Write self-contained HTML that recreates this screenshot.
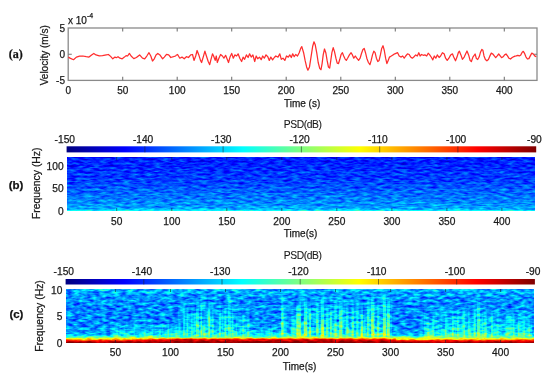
<!DOCTYPE html>
<html lang="en"><head><meta charset="utf-8"><title>Velocity and PSD spectrograms</title>
<style>html,body{margin:0;padding:0;background:#fff;}svg{display:block;}text{font-family:"Liberation Sans",sans-serif;font-size:10px;fill:#1a1a1a;stroke:#1a1a1a;stroke-width:.25px;}.lab{font-family:"Liberation Serif",serif;font-weight:bold;font-size:12px;fill:#111;}.psd{font-size:10.3px;letter-spacing:-.42px;stroke-width:.1px;}.lb2{font-weight:bold;font-size:11.5px;fill:#111;}.t2{font-size:10.2px;}.yl{font-size:10.4px;}</style></head><body>
<svg width="550" height="381" viewBox="0 0 550 381">
<defs>
<linearGradient id="jet" x1="0" x2="1" y1="0" y2="0"><stop offset="0" stop-color="rgb(0, 0, 128)"/><stop offset="0.125" stop-color="rgb(0, 0, 255)"/><stop offset="0.375" stop-color="rgb(0, 255, 255)"/><stop offset="0.625" stop-color="rgb(255, 255, 0)"/><stop offset="0.875" stop-color="rgb(255, 0, 0)"/><stop offset="1" stop-color="rgb(128, 0, 0)"/></linearGradient>
<filter id="fb" x="0" y="0" width="1" height="1" color-interpolation-filters="sRGB"><feTurbulence type="fractalNoise" baseFrequency="0.13 0.46" numOctaves="2" seed="7" result="n"/><feColorMatrix in="n" type="matrix" values="1 0 0 0 0 1 0 0 0 0 1 0 0 0 0 0 0 0 0 1" result="g"/><feComposite in="SourceGraphic" in2="g" operator="arithmetic" k1="-0.0" k2="1.0" k3="0.27" k4="-0.135" result="v"/><feComponentTransfer in="v"><feFuncR type="table" tableValues="0 0 0 0 0.5 1 1 1 0.5"/><feFuncG type="table" tableValues="0 0 0.5 1 1 1 0.5 0 0"/><feFuncB type="table" tableValues="0.5 1 1 1 0.5 0 0 0 0"/></feComponentTransfer></filter>
<filter id="fc" x="0" y="0" width="1" height="1" color-interpolation-filters="sRGB"><feTurbulence type="fractalNoise" baseFrequency="0.15 0.36" numOctaves="2" seed="11" result="n"/><feColorMatrix in="n" type="matrix" values="1 0 0 0 0 1 0 0 0 0 1 0 0 0 0 0 0 0 0 1" result="g"/><feComposite in="SourceGraphic" in2="g" operator="arithmetic" k1="-0.24" k2="1.12" k3="0.46" k4="-0.23" result="v"/><feComponentTransfer in="v"><feFuncR type="table" tableValues="0 0 0 0 0.5 1 1 1 0.5"/><feFuncG type="table" tableValues="0 0 0.5 1 1 1 0.5 0 0"/><feFuncB type="table" tableValues="0.5 1 1 1 0.5 0 0 0 0"/></feComponentTransfer></filter>
<linearGradient id="gb" x1="0" x2="0" y1="0" y2="1"><stop offset="0.000" stop-color="rgb(38,38,38)"/><stop offset="0.444" stop-color="rgb(48,48,48)"/><stop offset="0.796" stop-color="rgb(64,64,64)"/><stop offset="0.954" stop-color="rgb(73,73,73)"/><stop offset="0.978" stop-color="rgb(84,84,84)"/><stop offset="1.000" stop-color="rgb(102,102,102)"/></linearGradient>
<linearGradient id="gc" x1="0" x2="0" y1="0" y2="1"><stop offset="0.004" stop-color="rgb(79,79,79)"/><stop offset="0.130" stop-color="rgb(71,71,71)"/><stop offset="0.241" stop-color="rgb(67,67,67)"/><stop offset="0.611" stop-color="rgb(65,65,65)"/><stop offset="0.778" stop-color="rgb(70,70,70)"/><stop offset="0.852" stop-color="rgb(82,82,82)"/><stop offset="0.880" stop-color="rgb(102,102,102)"/><stop offset="1.000" stop-color="rgb(115,115,115)"/></linearGradient>
<linearGradient id="bd0" x1="0" x2="0" y1="0" y2="1"><stop offset="0.260" stop-color="rgb(102,102,102)" stop-opacity="0.0"/><stop offset="0.400" stop-color="rgb(122,122,122)" stop-opacity="0.6"/><stop offset="0.510" stop-color="rgb(148,148,148)" stop-opacity="1.0"/><stop offset="0.620" stop-color="rgb(168,168,168)" stop-opacity="1.0"/><stop offset="0.710" stop-color="rgb(199,199,199)" stop-opacity="1.0"/><stop offset="0.780" stop-color="rgb(222,222,222)" stop-opacity="1.0"/><stop offset="0.880" stop-color="rgb(237,237,237)" stop-opacity="1.0"/><stop offset="0.990" stop-color="rgb(255,255,255)" stop-opacity="1.0"/></linearGradient>
<linearGradient id="bd1" x1="0" x2="0" y1="0" y2="1"><stop offset="0.245" stop-color="rgb(102,102,102)" stop-opacity="0.0"/><stop offset="0.390" stop-color="rgb(120,120,120)" stop-opacity="0.575"/><stop offset="0.508" stop-color="rgb(150,150,150)" stop-opacity="1.0"/><stop offset="0.610" stop-color="rgb(176,176,176)" stop-opacity="1.0"/><stop offset="0.695" stop-color="rgb(205,205,205)" stop-opacity="1.0"/><stop offset="0.780" stop-color="rgb(225,225,225)" stop-opacity="1.0"/><stop offset="0.880" stop-color="rgb(240,240,240)" stop-opacity="1.0"/><stop offset="0.990" stop-color="rgb(255,255,255)" stop-opacity="1.0"/></linearGradient>
<linearGradient id="bd2" x1="0" x2="0" y1="0" y2="1"><stop offset="0.230" stop-color="rgb(102,102,102)" stop-opacity="0.0"/><stop offset="0.380" stop-color="rgb(119,119,119)" stop-opacity="0.55"/><stop offset="0.505" stop-color="rgb(153,153,153)" stop-opacity="1.0"/><stop offset="0.600" stop-color="rgb(184,184,184)" stop-opacity="1.0"/><stop offset="0.680" stop-color="rgb(210,210,210)" stop-opacity="1.0"/><stop offset="0.780" stop-color="rgb(228,228,228)" stop-opacity="1.0"/><stop offset="0.880" stop-color="rgb(244,244,244)" stop-opacity="1.0"/><stop offset="0.990" stop-color="rgb(255,255,255)" stop-opacity="1.0"/></linearGradient>
<linearGradient id="bd3" x1="0" x2="0" y1="0" y2="1"><stop offset="0.215" stop-color="rgb(102,102,102)" stop-opacity="0.0"/><stop offset="0.370" stop-color="rgb(117,117,117)" stop-opacity="0.525"/><stop offset="0.502" stop-color="rgb(156,156,156)" stop-opacity="1.0"/><stop offset="0.590" stop-color="rgb(191,191,191)" stop-opacity="1.0"/><stop offset="0.665" stop-color="rgb(216,216,216)" stop-opacity="1.0"/><stop offset="0.780" stop-color="rgb(231,231,231)" stop-opacity="1.0"/><stop offset="0.880" stop-color="rgb(247,247,247)" stop-opacity="1.0"/><stop offset="0.990" stop-color="rgb(255,255,255)" stop-opacity="1.0"/></linearGradient>
<linearGradient id="bd4" x1="0" x2="0" y1="0" y2="1"><stop offset="0.200" stop-color="rgb(102,102,102)" stop-opacity="0.0"/><stop offset="0.360" stop-color="rgb(115,115,115)" stop-opacity="0.5"/><stop offset="0.500" stop-color="rgb(158,158,158)" stop-opacity="1.0"/><stop offset="0.580" stop-color="rgb(199,199,199)" stop-opacity="1.0"/><stop offset="0.650" stop-color="rgb(222,222,222)" stop-opacity="1.0"/><stop offset="0.780" stop-color="rgb(235,235,235)" stop-opacity="1.0"/><stop offset="0.880" stop-color="rgb(250,250,250)" stop-opacity="1.0"/><stop offset="0.990" stop-color="rgb(255,255,255)" stop-opacity="1.0"/></linearGradient>
<linearGradient id="st" x1="0" x2="0" y1="0" y2="1"><stop offset="0" stop-color="#fff" stop-opacity="0"/><stop offset="0.3" stop-color="#fff" stop-opacity="0.14"/><stop offset="0.6" stop-color="#fff" stop-opacity="0.26"/><stop offset="1" stop-color="#fff" stop-opacity="0.36"/></linearGradient>
<linearGradient id="zn" x1="0" x2="0" y1="0" y2="1"><stop offset="0" stop-color="#fff" stop-opacity="0"/><stop offset="1" stop-color="#fff" stop-opacity="0.2"/></linearGradient>
</defs>
<rect width="550" height="381" fill="#fff"/>
<rect x="68.2" y="28" width="468.8" height="52.400000000000006" fill="#fff" stroke="#8a8a8a" stroke-width="1.3"/>
<text x="68.2" y="93.6" text-anchor="middle">0</text>
<path d="M122.7 80.4v-3.6M122.7 28v3.6" stroke="#777" stroke-width="1.1" fill="none"/>
<text x="122.7" y="93.6" text-anchor="middle">50</text>
<path d="M177.2 80.4v-3.6M177.2 28v3.6" stroke="#777" stroke-width="1.1" fill="none"/>
<text x="177.2" y="93.6" text-anchor="middle">100</text>
<path d="M231.7 80.4v-3.6M231.7 28v3.6" stroke="#777" stroke-width="1.1" fill="none"/>
<text x="231.7" y="93.6" text-anchor="middle">150</text>
<path d="M286.2 80.4v-3.6M286.2 28v3.6" stroke="#777" stroke-width="1.1" fill="none"/>
<text x="286.2" y="93.6" text-anchor="middle">200</text>
<path d="M340.8 80.4v-3.6M340.8 28v3.6" stroke="#777" stroke-width="1.1" fill="none"/>
<text x="340.8" y="93.6" text-anchor="middle">250</text>
<path d="M395.3 80.4v-3.6M395.3 28v3.6" stroke="#777" stroke-width="1.1" fill="none"/>
<text x="395.3" y="93.6" text-anchor="middle">300</text>
<path d="M449.8 80.4v-3.6M449.8 28v3.6" stroke="#777" stroke-width="1.1" fill="none"/>
<text x="449.8" y="93.6" text-anchor="middle">350</text>
<path d="M504.3 80.4v-3.6M504.3 28v3.6" stroke="#777" stroke-width="1.1" fill="none"/>
<text x="504.3" y="93.6" text-anchor="middle">400</text>
<text x="65" y="31.6" text-anchor="end">5</text>
<text x="65" y="57.8" text-anchor="end">0</text>
<text x="65" y="84.0" text-anchor="end">-5</text>
<path d="M68.2 54.2h3.6M537 54.2h-3.6" stroke="#777" stroke-width="1.1" fill="none"/>
<text x="68" y="23.6">x 10<tspan dy="-6" font-size="7px">-4</tspan></text>
<text transform="translate(48.2 55.3) rotate(-90)" text-anchor="middle">Velocity (m/s)</text>
<text x="302.1" y="106.5" text-anchor="middle">Time (s)</text>
<text class="lab" x="8.7" y="58.3">(a)</text>
<polyline fill="none" stroke="#ff2d2d" stroke-width="1.25" stroke-linejoin="round" points="68.3,57.1 70.5,58.4 73.5,59.7 76.4,57.1 79.6,56.2 82.9,56.0 86.2,56.7 89.0,57.1 91.6,54.9 93.8,53.4 96.0,54.9 99.3,55.8 102.5,55.6 106.3,54.9 108.4,54.5 110.6,56.4 112.8,58.8 115.0,57.1 116.3,57.7 118.0,56.7 120.0,58.2 122.2,58.8 124.4,57.1 126.1,55.6 127.6,56.0 129.4,53.4 131.1,56.0 133.8,58.6 136.4,57.5 139.6,54.9 142.5,58.2 144.7,58.8 146.8,56.0 149.0,52.7 150.8,56.0 152.5,61.0 154.3,58.8 156.0,54.9 157.8,53.4 159.9,54.9 162.6,58.8 164.3,57.1 166.5,54.3 168.7,54.9 170.8,57.5 173.5,56.7 175.6,56.0 176.1,55.3 177.6,54.5 179.8,58.2 182.0,57.1 184.2,58.8 186.4,56.7 188.5,57.5 190.7,54.9 192.5,54.5 194.0,60.4 195.7,56.0 197.1,50.5 198.8,54.9 200.5,60.4 201.6,62.5 203.2,57.1 204.9,51.2 206.4,56.0 208.2,61.5 209.7,64.7 211.0,59.3 212.5,53.8 213.6,56.0 215.2,60.4 216.3,56.0 217.3,62.5 218.9,58.2 220.6,54.5 222.4,56.0 223.9,58.2 225.6,55.3 227.2,59.3 228.5,62.5 230.0,57.1 231.7,53.4 233.3,58.2 234.8,54.9 236.6,56.0 238.1,53.8 239.8,58.2 241.6,61.5 243.1,57.1 244.6,59.3 246.4,54.9 248.1,57.5 249.6,53.8 251.2,57.1 252.9,54.9 254.7,61.5 256.2,56.0 257.7,58.8 259.5,57.1 261.2,59.7 262.7,56.0 264.3,58.2 266.0,54.9 267.8,56.7 269.3,60.4 270.8,57.1 272.6,59.9 274.3,57.5 275.8,56.0 278.0,57.1 279.8,53.8 281.3,59.3 283.0,58.2 284.8,60.4 286.5,56.0 288.3,57.1 289.8,54.9 291.3,57.5 292.7,53.8 294.2,56.7 295.7,54.5 297.5,56.0 299.2,52.7 300.7,48.4 301.8,46.6 303.6,52.7 305.1,60.4 306.6,66.9 307.9,70.2 309.5,66.9 311.0,57.1 312.7,46.2 314.0,41.8 315.3,45.1 316.7,52.7 318.2,62.5 319.7,68.4 321.0,69.7 322.1,63.6 323.2,54.9 324.5,49.0 325.8,52.7 327.1,60.4 328.4,66.9 329.7,68.0 330.8,60.4 331.9,52.7 333.2,47.7 334.5,51.6 335.9,58.2 337.2,63.2 338.5,63.6 339.8,59.3 341.1,54.5 342.4,52.7 343.7,56.0 345.0,58.8 346.3,60.4 347.6,58.2 349.4,54.9 351.1,52.7 352.4,54.9 353.8,58.2 355.3,56.0 356.8,58.2 358.6,60.4 360.1,58.2 361.4,53.8 362.9,49.5 364.2,48.4 365.5,52.7 366.8,58.2 368.4,62.5 369.9,64.7 371.2,60.4 372.5,54.9 373.8,51.2 375.1,52.7 376.4,58.2 377.8,61.5 379.1,60.4 380.4,54.9 381.7,48.4 383.0,45.7 384.3,50.5 385.6,58.2 386.9,63.6 388.2,60.4 389.5,57.1 391.3,56.0 393.0,54.9 394.8,53.8 397.6,52.7 399.2,56.0 400.9,57.1 402.7,56.0 404.2,58.2 405.7,56.0 407.5,53.8 409.2,54.5 410.7,57.1 412.3,58.2 414.0,56.7 415.7,54.9 417.3,56.0 418.8,52.7 420.1,56.0 421.6,54.5 423.2,55.3 424.9,54.9 426.7,56.0 428.2,53.2 429.7,54.9 431.5,57.5 432.8,59.9 434.3,56.0 435.8,58.2 437.3,54.9 439.1,57.5 440.6,56.0 442.4,52.7 444.1,53.8 445.6,58.2 447.2,60.4 448.9,58.2 450.7,54.9 452.4,53.8 453.7,57.1 455.5,60.8 457.0,57.1 458.3,52.7 459.4,51.2 460.9,54.9 462.4,59.3 464.2,57.1 465.7,53.8 467.0,51.0 468.6,54.9 470.1,60.4 471.4,61.5 472.9,57.1 475.1,54.0 476.4,58.6 477.7,59.5 479.2,56.8 480.5,52.2 481.8,49.4 482.9,50.3 484.0,55.9 485.4,59.5 486.9,60.8 488.4,59.5 489.9,55.9 491.3,53.1 492.8,54.0 494.3,55.9 495.7,57.7 497.2,55.9 498.7,54.0 500.2,55.9 501.6,57.7 503.1,56.8 504.6,54.9 506.0,54.0 507.5,55.9 509.0,58.3 510.5,59.0 511.9,57.7 513.4,56.8 514.9,56.2 516.3,55.9 517.8,55.3 519.3,55.9 520.8,54.9 522.2,52.2 523.3,51.3 524.4,53.1 525.9,56.8 527.4,59.0 528.9,58.6 530.3,55.9 531.8,53.1 533.3,54.0 534.7,55.9 536.2,56.8"/>
<text class="psd" x="302.7" y="127.8" text-anchor="middle">PSD(dB)</text>
<rect x="66.6" y="146.3" width="469.6" height="6.099999999999994" fill="url(#jet)"/>
<text class="t2" x="64.8" y="143.1" text-anchor="middle">-150</text>
<text class="t2" x="143.1" y="143.1" text-anchor="middle">-140</text>
<path d="M144.9 146.3v6.099999999999994" stroke="#222" stroke-opacity=".55" stroke-width="1"/>
<text class="t2" x="221.3" y="143.1" text-anchor="middle">-130</text>
<path d="M223.1 146.3v6.099999999999994" stroke="#222" stroke-opacity=".55" stroke-width="1"/>
<text class="t2" x="299.6" y="143.1" text-anchor="middle">-120</text>
<path d="M301.4 146.3v6.099999999999994" stroke="#222" stroke-opacity=".55" stroke-width="1"/>
<text class="t2" x="377.9" y="143.1" text-anchor="middle">-110</text>
<path d="M379.7 146.3v6.099999999999994" stroke="#222" stroke-opacity=".55" stroke-width="1"/>
<text class="t2" x="456.1" y="143.1" text-anchor="middle">-100</text>
<path d="M457.9 146.3v6.099999999999994" stroke="#222" stroke-opacity=".55" stroke-width="1"/>
<text class="t2" x="534.4" y="143.1" text-anchor="middle">-90</text>
<g filter="url(#fb)"><rect x="67" y="157" width="468" height="54" fill="url(#gb)"/></g>
<path d="M116.7 211v-3M116.7 157v3" stroke="#123" stroke-opacity=".6" stroke-width="1" fill="none"/>
<text class="t2" x="116.7" y="224.6" text-anchor="middle">50</text>
<path d="M171.8 211v-3M171.8 157v3" stroke="#123" stroke-opacity=".6" stroke-width="1" fill="none"/>
<text class="t2" x="171.8" y="224.6" text-anchor="middle">100</text>
<path d="M226.8 211v-3M226.8 157v3" stroke="#123" stroke-opacity=".6" stroke-width="1" fill="none"/>
<text class="t2" x="226.8" y="224.6" text-anchor="middle">150</text>
<path d="M281.8 211v-3M281.8 157v3" stroke="#123" stroke-opacity=".6" stroke-width="1" fill="none"/>
<text class="t2" x="281.8" y="224.6" text-anchor="middle">200</text>
<path d="M336.8 211v-3M336.8 157v3" stroke="#123" stroke-opacity=".6" stroke-width="1" fill="none"/>
<text class="t2" x="336.8" y="224.6" text-anchor="middle">250</text>
<path d="M391.9 211v-3M391.9 157v3" stroke="#123" stroke-opacity=".6" stroke-width="1" fill="none"/>
<text class="t2" x="391.9" y="224.6" text-anchor="middle">300</text>
<path d="M446.9 211v-3M446.9 157v3" stroke="#123" stroke-opacity=".6" stroke-width="1" fill="none"/>
<text class="t2" x="446.9" y="224.6" text-anchor="middle">350</text>
<path d="M501.9 211v-3M501.9 157v3" stroke="#123" stroke-opacity=".6" stroke-width="1" fill="none"/>
<text class="t2" x="501.9" y="224.6" text-anchor="middle">400</text>
<text class="t2" x="63.6" y="214.8" text-anchor="end">0</text>
<text class="t2" x="63.6" y="192.3" text-anchor="end">50</text>
<text class="t2" x="63.6" y="169.8" text-anchor="end">100</text>
<text class="yl" transform="translate(40 183.3) rotate(-90)" text-anchor="middle">Frequency (Hz)</text>
<text x="300.6" y="237.2" text-anchor="middle">Time(s)</text>
<text class="lb2" x="8.7" y="188.9">(b)</text>
<text class="psd" x="302.7" y="258.5" text-anchor="middle">PSD(dB)</text>
<rect x="65.6" y="279" width="469.29999999999995" height="5.5" fill="url(#jet)"/>
<text class="t2" x="63.8" y="275.1" text-anchor="middle">-150</text>
<text class="t2" x="142.0" y="275.1" text-anchor="middle">-140</text>
<path d="M143.8 279v5.5" stroke="#222" stroke-opacity=".55" stroke-width="1"/>
<text class="t2" x="220.2" y="275.1" text-anchor="middle">-130</text>
<path d="M222.0 279v5.5" stroke="#222" stroke-opacity=".55" stroke-width="1"/>
<text class="t2" x="298.4" y="275.1" text-anchor="middle">-120</text>
<path d="M300.2 279v5.5" stroke="#222" stroke-opacity=".55" stroke-width="1"/>
<text class="t2" x="376.7" y="275.1" text-anchor="middle">-110</text>
<path d="M378.5 279v5.5" stroke="#222" stroke-opacity=".55" stroke-width="1"/>
<text class="t2" x="454.9" y="275.1" text-anchor="middle">-100</text>
<path d="M456.7 279v5.5" stroke="#222" stroke-opacity=".55" stroke-width="1"/>
<text class="t2" x="533.1" y="275.1" text-anchor="middle">-90</text>
<g filter="url(#fc)"><rect x="66" y="289" width="468" height="54" fill="url(#gc)"/><rect x="178" y="298" width="72" height="45.0" fill="url(#zn)" opacity="0.55"/><rect x="250" y="318" width="32" height="25.0" fill="url(#zn)" opacity="0.4"/><rect x="282" y="296" width="54" height="47.0" fill="url(#zn)" opacity="0.55"/><rect x="336" y="294" width="56" height="49.0" fill="url(#zn)" opacity="0.55"/><rect x="424" y="304" width="108" height="39.0" fill="url(#zn)" opacity="0.75"/><rect x="110" y="318" width="68" height="25.0" fill="url(#zn)" opacity="0.5"/><rect x="179.0" y="315" width="1.5" height="28" fill="url(#st)" opacity="0.26"/><rect x="183.1" y="318" width="1" height="25" fill="url(#st)" opacity="0.30"/><rect x="186.9" y="319" width="1" height="24" fill="url(#st)" opacity="0.15"/><rect x="190.8" y="301" width="1" height="42" fill="url(#st)" opacity="0.20"/><rect x="193.6" y="301" width="1.5" height="42" fill="url(#st)" opacity="0.15"/><rect x="195.9" y="305" width="1" height="38" fill="url(#st)" opacity="0.30"/><rect x="198.1" y="319" width="1.5" height="24" fill="url(#st)" opacity="0.12"/><rect x="200.9" y="302" width="1" height="41" fill="url(#st)" opacity="0.31"/><rect x="203.2" y="304" width="1" height="39" fill="url(#st)" opacity="0.31"/><rect x="205.7" y="323" width="1.5" height="20" fill="url(#st)" opacity="0.21"/><rect x="209.0" y="303" width="1" height="40" fill="url(#st)" opacity="0.31"/><rect x="213.1" y="322" width="1" height="21" fill="url(#st)" opacity="0.16"/><rect x="215.9" y="323" width="1" height="20" fill="url(#st)" opacity="0.15"/><rect x="218.5" y="314" width="1.5" height="29" fill="url(#st)" opacity="0.09"/><rect x="222.0" y="300" width="1" height="43" fill="url(#st)" opacity="0.17"/><rect x="224.9" y="306" width="1.5" height="37" fill="url(#st)" opacity="0.20"/><rect x="227.1" y="305" width="1.5" height="38" fill="url(#st)" opacity="0.30"/><rect x="229.8" y="309" width="1" height="34" fill="url(#st)" opacity="0.21"/><rect x="232.5" y="313" width="1" height="30" fill="url(#st)" opacity="0.09"/><rect x="236.0" y="315" width="1" height="28" fill="url(#st)" opacity="0.30"/><rect x="239.6" y="323" width="1" height="20" fill="url(#st)" opacity="0.30"/><rect x="242.6" y="322" width="1" height="21" fill="url(#st)" opacity="0.15"/><rect x="244.7" y="318" width="1" height="25" fill="url(#st)" opacity="0.27"/><rect x="246.6" y="323" width="1" height="20" fill="url(#st)" opacity="0.11"/><rect x="251.0" y="324" width="1" height="19" fill="url(#st)" opacity="0.10"/><rect x="255.0" y="327" width="1" height="16" fill="url(#st)" opacity="0.13"/><rect x="257.6" y="331" width="1.5" height="12" fill="url(#st)" opacity="0.18"/><rect x="261.0" y="334" width="1" height="9" fill="url(#st)" opacity="0.10"/><rect x="263.0" y="328" width="1" height="15" fill="url(#st)" opacity="0.24"/><rect x="265.4" y="328" width="1" height="15" fill="url(#st)" opacity="0.22"/><rect x="268.7" y="320" width="1.5" height="23" fill="url(#st)" opacity="0.25"/><rect x="270.6" y="326" width="1" height="17" fill="url(#st)" opacity="0.22"/><rect x="274.8" y="327" width="1" height="16" fill="url(#st)" opacity="0.10"/><rect x="276.8" y="325" width="1" height="18" fill="url(#st)" opacity="0.10"/><rect x="279.3" y="325" width="1" height="18" fill="url(#st)" opacity="0.25"/><rect x="283.0" y="308" width="1.5" height="35" fill="url(#st)" opacity="0.20"/><rect x="285.6" y="304" width="1" height="39" fill="url(#st)" opacity="0.20"/><rect x="287.6" y="319" width="1" height="24" fill="url(#st)" opacity="0.21"/><rect x="290.9" y="310" width="1" height="33" fill="url(#st)" opacity="0.17"/><rect x="293.9" y="310" width="1.5" height="33" fill="url(#st)" opacity="0.21"/><rect x="296.6" y="318" width="1.5" height="25" fill="url(#st)" opacity="0.26"/><rect x="299.8" y="297" width="1.5" height="46" fill="url(#st)" opacity="0.16"/><rect x="303.3" y="304" width="1.5" height="39" fill="url(#st)" opacity="0.20"/><rect x="306.8" y="322" width="1" height="21" fill="url(#st)" opacity="0.17"/><rect x="310.0" y="296" width="1" height="47" fill="url(#st)" opacity="0.21"/><rect x="312.6" y="304" width="1.5" height="39" fill="url(#st)" opacity="0.15"/><rect x="315.9" y="318" width="1.5" height="25" fill="url(#st)" opacity="0.17"/><rect x="318.6" y="322" width="1" height="21" fill="url(#st)" opacity="0.18"/><rect x="322.5" y="315" width="1" height="28" fill="url(#st)" opacity="0.31"/><rect x="325.5" y="311" width="1" height="32" fill="url(#st)" opacity="0.13"/><rect x="329.5" y="309" width="1.5" height="34" fill="url(#st)" opacity="0.25"/><rect x="333.0" y="307" width="1.5" height="36" fill="url(#st)" opacity="0.23"/><rect x="337.0" y="321" width="1.5" height="22" fill="url(#st)" opacity="0.16"/><rect x="340.7" y="312" width="1" height="31" fill="url(#st)" opacity="0.25"/><rect x="342.9" y="311" width="1" height="32" fill="url(#st)" opacity="0.23"/><rect x="345.3" y="314" width="1" height="29" fill="url(#st)" opacity="0.23"/><rect x="349.4" y="322" width="1" height="21" fill="url(#st)" opacity="0.13"/><rect x="351.5" y="322" width="1.5" height="21" fill="url(#st)" opacity="0.20"/><rect x="353.4" y="307" width="1.5" height="36" fill="url(#st)" opacity="0.18"/><rect x="355.3" y="300" width="1" height="43" fill="url(#st)" opacity="0.25"/><rect x="357.1" y="306" width="1" height="37" fill="url(#st)" opacity="0.15"/><rect x="361.0" y="314" width="1" height="29" fill="url(#st)" opacity="0.21"/><rect x="364.1" y="303" width="1.5" height="40" fill="url(#st)" opacity="0.16"/><rect x="366.8" y="311" width="1" height="32" fill="url(#st)" opacity="0.31"/><rect x="369.6" y="317" width="1" height="26" fill="url(#st)" opacity="0.23"/><rect x="372.5" y="298" width="1" height="45" fill="url(#st)" opacity="0.18"/><rect x="376.6" y="322" width="1" height="21" fill="url(#st)" opacity="0.23"/><rect x="380.4" y="313" width="1" height="30" fill="url(#st)" opacity="0.18"/><rect x="383.5" y="312" width="1.5" height="31" fill="url(#st)" opacity="0.12"/><rect x="387.4" y="310" width="1" height="33" fill="url(#st)" opacity="0.19"/><rect x="390.4" y="308" width="1" height="35" fill="url(#st)" opacity="0.25"/><rect x="425.0" y="325" width="1" height="18" fill="url(#st)" opacity="0.28"/><rect x="428.6" y="311" width="1" height="32" fill="url(#st)" opacity="0.19"/><rect x="431.1" y="327" width="1" height="16" fill="url(#st)" opacity="0.25"/><rect x="433.3" y="305" width="1" height="38" fill="url(#st)" opacity="0.30"/><rect x="435.7" y="305" width="1" height="38" fill="url(#st)" opacity="0.15"/><rect x="437.5" y="317" width="1" height="26" fill="url(#st)" opacity="0.19"/><rect x="441.2" y="310" width="1" height="33" fill="url(#st)" opacity="0.19"/><rect x="444.7" y="311" width="1" height="32" fill="url(#st)" opacity="0.25"/><rect x="447.8" y="324" width="1" height="19" fill="url(#st)" opacity="0.36"/><rect x="449.6" y="307" width="1.5" height="36" fill="url(#st)" opacity="0.19"/><rect x="452.2" y="311" width="1" height="32" fill="url(#st)" opacity="0.27"/><rect x="454.8" y="320" width="1" height="23" fill="url(#st)" opacity="0.35"/><rect x="456.7" y="310" width="1" height="33" fill="url(#st)" opacity="0.24"/><rect x="460.7" y="317" width="1" height="26" fill="url(#st)" opacity="0.12"/><rect x="463.9" y="320" width="1.5" height="23" fill="url(#st)" opacity="0.39"/><rect x="466.8" y="325" width="1" height="18" fill="url(#st)" opacity="0.22"/><rect x="470.3" y="321" width="1" height="22" fill="url(#st)" opacity="0.37"/><rect x="474.1" y="306" width="1.5" height="37" fill="url(#st)" opacity="0.35"/><rect x="477.7" y="318" width="1" height="25" fill="url(#st)" opacity="0.30"/><rect x="481.7" y="307" width="1.5" height="36" fill="url(#st)" opacity="0.25"/><rect x="485.7" y="327" width="1" height="16" fill="url(#st)" opacity="0.27"/><rect x="488.9" y="323" width="1" height="20" fill="url(#st)" opacity="0.13"/><rect x="491.3" y="306" width="1" height="37" fill="url(#st)" opacity="0.13"/><rect x="493.9" y="314" width="1" height="29" fill="url(#st)" opacity="0.13"/><rect x="497.4" y="305" width="1" height="38" fill="url(#st)" opacity="0.35"/><rect x="500.7" y="323" width="1" height="20" fill="url(#st)" opacity="0.15"/><rect x="504.9" y="321" width="1" height="22" fill="url(#st)" opacity="0.24"/><rect x="508.1" y="314" width="1.5" height="29" fill="url(#st)" opacity="0.16"/><rect x="510.4" y="317" width="1.5" height="26" fill="url(#st)" opacity="0.30"/><rect x="512.4" y="305" width="1.5" height="38" fill="url(#st)" opacity="0.28"/><rect x="515.2" y="319" width="1" height="24" fill="url(#st)" opacity="0.12"/><rect x="517.7" y="318" width="1.5" height="25" fill="url(#st)" opacity="0.25"/><rect x="520.4" y="305" width="1" height="38" fill="url(#st)" opacity="0.31"/><rect x="523.6" y="320" width="1.5" height="23" fill="url(#st)" opacity="0.20"/><rect x="526.7" y="309" width="1" height="34" fill="url(#st)" opacity="0.13"/><rect x="529.1" y="322" width="1" height="21" fill="url(#st)" opacity="0.26"/><rect x="111.0" y="332" width="1" height="11" fill="url(#st)" opacity="0.18"/><rect x="113.2" y="330" width="1" height="13" fill="url(#st)" opacity="0.22"/><rect x="116.4" y="319" width="1.5" height="24" fill="url(#st)" opacity="0.27"/><rect x="119.6" y="322" width="1" height="21" fill="url(#st)" opacity="0.27"/><rect x="123.7" y="320" width="1.5" height="23" fill="url(#st)" opacity="0.20"/><rect x="127.3" y="319" width="1" height="24" fill="url(#st)" opacity="0.12"/><rect x="130.7" y="322" width="1.5" height="21" fill="url(#st)" opacity="0.11"/><rect x="133.7" y="321" width="1" height="22" fill="url(#st)" opacity="0.23"/><rect x="136.3" y="322" width="1.5" height="21" fill="url(#st)" opacity="0.15"/><rect x="139.8" y="331" width="1.5" height="12" fill="url(#st)" opacity="0.16"/><rect x="143.6" y="329" width="1" height="14" fill="url(#st)" opacity="0.25"/><rect x="147.7" y="324" width="1.5" height="19" fill="url(#st)" opacity="0.09"/><rect x="150.1" y="321" width="1" height="22" fill="url(#st)" opacity="0.10"/><rect x="151.9" y="321" width="1" height="22" fill="url(#st)" opacity="0.09"/><rect x="155.3" y="324" width="1" height="19" fill="url(#st)" opacity="0.17"/><rect x="159.3" y="328" width="1" height="15" fill="url(#st)" opacity="0.17"/><rect x="162.2" y="321" width="1" height="22" fill="url(#st)" opacity="0.22"/><rect x="164.9" y="324" width="1" height="19" fill="url(#st)" opacity="0.27"/><rect x="168.0" y="320" width="1" height="23" fill="url(#st)" opacity="0.26"/><rect x="171.4" y="319" width="1" height="24" fill="url(#st)" opacity="0.27"/><rect x="175.4" y="324" width="1.5" height="19" fill="url(#st)" opacity="0.28"/><rect x="143.8" y="325" width="2.3" height="18.0" fill="url(#st)" opacity="0.32"/><rect x="150.8" y="326" width="2.3" height="17.0" fill="url(#st)" opacity="0.32"/><rect x="158.8" y="324" width="2.3" height="19.0" fill="url(#st)" opacity="0.32"/><rect x="166.8" y="322" width="2.3" height="21.0" fill="url(#st)" opacity="0.38"/><rect x="183.2" y="300" width="2.0" height="43.0" fill="url(#st)" opacity="0.46"/><rect x="186.6" y="305" width="1.5" height="38.0" fill="url(#st)" opacity="0.40"/><rect x="191.2" y="308" width="2.0" height="35.0" fill="url(#st)" opacity="0.40"/><rect x="196.3" y="292" width="2.5" height="51.0" fill="url(#st)" opacity="0.58"/><rect x="200.5" y="298" width="2.0" height="45.0" fill="url(#st)" opacity="0.52"/><rect x="203.5" y="300" width="2.0" height="43.0" fill="url(#st)" opacity="0.46"/><rect x="207.8" y="292" width="2.5" height="51.0" fill="url(#st)" opacity="0.58"/><rect x="211.7" y="300" width="2.0" height="43.0" fill="url(#st)" opacity="0.46"/><rect x="219.0" y="302" width="2.0" height="41.0" fill="url(#st)" opacity="0.46"/><rect x="224.5" y="300" width="2.0" height="43.0" fill="url(#st)" opacity="0.46"/><rect x="228.2" y="292" width="2.5" height="51.0" fill="url(#st)" opacity="0.58"/><rect x="231.4" y="300" width="2.0" height="43.0" fill="url(#st)" opacity="0.46"/><rect x="242.3" y="305" width="2.0" height="38.0" fill="url(#st)" opacity="0.40"/><rect x="247.2" y="308" width="2.0" height="35.0" fill="url(#st)" opacity="0.40"/><rect x="261.0" y="322" width="2.0" height="21.0" fill="url(#st)" opacity="0.29"/><rect x="271.0" y="322" width="2.0" height="21.0" fill="url(#st)" opacity="0.29"/><rect x="281.1" y="292" width="2.3" height="51.0" fill="url(#st)" opacity="0.72"/><rect x="291.6" y="310" width="2.3" height="33.0" fill="url(#st)" opacity="0.48"/><rect x="296.4" y="296" width="4.3" height="47.0" fill="url(#st)" opacity="1.00"/><rect x="303.9" y="296" width="3.3" height="47.0" fill="url(#st)" opacity="0.96"/><rect x="308.9" y="300" width="2.3" height="43.0" fill="url(#st)" opacity="0.72"/><rect x="316.2" y="300" width="2.3" height="43.0" fill="url(#st)" opacity="0.72"/><rect x="320.8" y="294" width="3.3" height="49.0" fill="url(#st)" opacity="0.96"/><rect x="326.2" y="300" width="2.3" height="43.0" fill="url(#st)" opacity="0.72"/><rect x="329.9" y="300" width="2.3" height="43.0" fill="url(#st)" opacity="0.64"/><rect x="334.4" y="296" width="2.3" height="47.0" fill="url(#st)" opacity="0.72"/><rect x="339.2" y="292" width="3.3" height="51.0" fill="url(#st)" opacity="0.91"/><rect x="346.2" y="296" width="2.3" height="47.0" fill="url(#st)" opacity="0.68"/><rect x="351.6" y="298" width="2.3" height="45.0" fill="url(#st)" opacity="0.68"/><rect x="356.2" y="298" width="2.3" height="45.0" fill="url(#st)" opacity="0.61"/><rect x="360.7" y="298" width="2.3" height="45.0" fill="url(#st)" opacity="0.68"/><rect x="367.1" y="296" width="2.3" height="47.0" fill="url(#st)" opacity="0.68"/><rect x="371.1" y="290" width="3.3" height="53.0" fill="url(#st)" opacity="0.99"/><rect x="377.1" y="298" width="2.3" height="45.0" fill="url(#st)" opacity="0.68"/><rect x="382.9" y="292" width="3.3" height="51.0" fill="url(#st)" opacity="0.91"/><rect x="387.1" y="292" width="2.8" height="51.0" fill="url(#st)" opacity="0.91"/><rect x="426.5" y="312" width="2.3" height="31.0" fill="url(#st)" opacity="0.39"/><rect x="432.0" y="312" width="2.3" height="31.0" fill="url(#st)" opacity="0.39"/><rect x="445.1" y="308" width="2.3" height="35.0" fill="url(#st)" opacity="0.45"/><rect x="451.6" y="308" width="2.3" height="35.0" fill="url(#st)" opacity="0.45"/><rect x="457.1" y="306" width="2.3" height="37.0" fill="url(#st)" opacity="0.45"/><rect x="462.5" y="306" width="2.3" height="37.0" fill="url(#st)" opacity="0.45"/><rect x="468.0" y="304" width="2.3" height="39.0" fill="url(#st)" opacity="0.50"/><rect x="473.4" y="302" width="2.3" height="41.0" fill="url(#st)" opacity="0.50"/><rect x="476.9" y="292" width="3.3" height="51.0" fill="url(#st)" opacity="0.67"/><rect x="484.4" y="304" width="2.3" height="39.0" fill="url(#st)" opacity="0.50"/><rect x="490.9" y="308" width="2.3" height="35.0" fill="url(#st)" opacity="0.45"/><rect x="505.9" y="312" width="2.3" height="31.0" fill="url(#st)" opacity="0.39"/><rect x="512.9" y="312" width="2.3" height="31.0" fill="url(#st)" opacity="0.39"/><rect x="517.9" y="310" width="2.3" height="33.0" fill="url(#st)" opacity="0.39"/><rect x="522.5" y="312" width="2.3" height="31.0" fill="url(#st)" opacity="0.39"/><rect x="527.9" y="314" width="2.3" height="29.0" fill="url(#st)" opacity="0.34"/><rect x="66" y="333" width="46" height="10" fill="url(#bd0)"/><rect x="112" y="333" width="20" height="10" fill="url(#bd1)"/><rect x="132" y="333" width="20" height="10" fill="url(#bd2)"/><rect x="152" y="333" width="20" height="10" fill="url(#bd3)"/><rect x="172" y="333" width="219" height="10" fill="url(#bd4)"/><rect x="391" y="333" width="5" height="10" fill="url(#bd2)"/><rect x="396" y="333" width="138" height="10" fill="url(#bd0)"/></g>
<path d="M115.4 343v-3M115.4 289v3" stroke="#123" stroke-opacity=".6" stroke-width="1" fill="none"/>
<text class="t2" x="115.4" y="356.4" text-anchor="middle">50</text>
<path d="M170.5 343v-3M170.5 289v3" stroke="#123" stroke-opacity=".6" stroke-width="1" fill="none"/>
<text class="t2" x="170.5" y="356.4" text-anchor="middle">100</text>
<path d="M225.5 343v-3M225.5 289v3" stroke="#123" stroke-opacity=".6" stroke-width="1" fill="none"/>
<text class="t2" x="225.5" y="356.4" text-anchor="middle">150</text>
<path d="M280.5 343v-3M280.5 289v3" stroke="#123" stroke-opacity=".6" stroke-width="1" fill="none"/>
<text class="t2" x="280.5" y="356.4" text-anchor="middle">200</text>
<path d="M335.5 343v-3M335.5 289v3" stroke="#123" stroke-opacity=".6" stroke-width="1" fill="none"/>
<text class="t2" x="335.5" y="356.4" text-anchor="middle">250</text>
<path d="M390.6 343v-3M390.6 289v3" stroke="#123" stroke-opacity=".6" stroke-width="1" fill="none"/>
<text class="t2" x="390.6" y="356.4" text-anchor="middle">300</text>
<path d="M445.6 343v-3M445.6 289v3" stroke="#123" stroke-opacity=".6" stroke-width="1" fill="none"/>
<text class="t2" x="445.6" y="356.4" text-anchor="middle">350</text>
<path d="M500.6 343v-3M500.6 289v3" stroke="#123" stroke-opacity=".6" stroke-width="1" fill="none"/>
<text class="t2" x="500.6" y="356.4" text-anchor="middle">400</text>
<text class="t2" x="62.4" y="346.8" text-anchor="end">0</text>
<text class="t2" x="62.4" y="320.2" text-anchor="end">5</text>
<text class="t2" x="62.4" y="293.6" text-anchor="end">10</text>
<text class="yl" transform="translate(43.4 316) rotate(-90)" text-anchor="middle">Frequency (Hz)</text>
<text x="299.6" y="369.9" text-anchor="middle">Time(s)</text>
<text class="lb2" x="9.4" y="318.4">(c)</text>
</svg></body></html>
